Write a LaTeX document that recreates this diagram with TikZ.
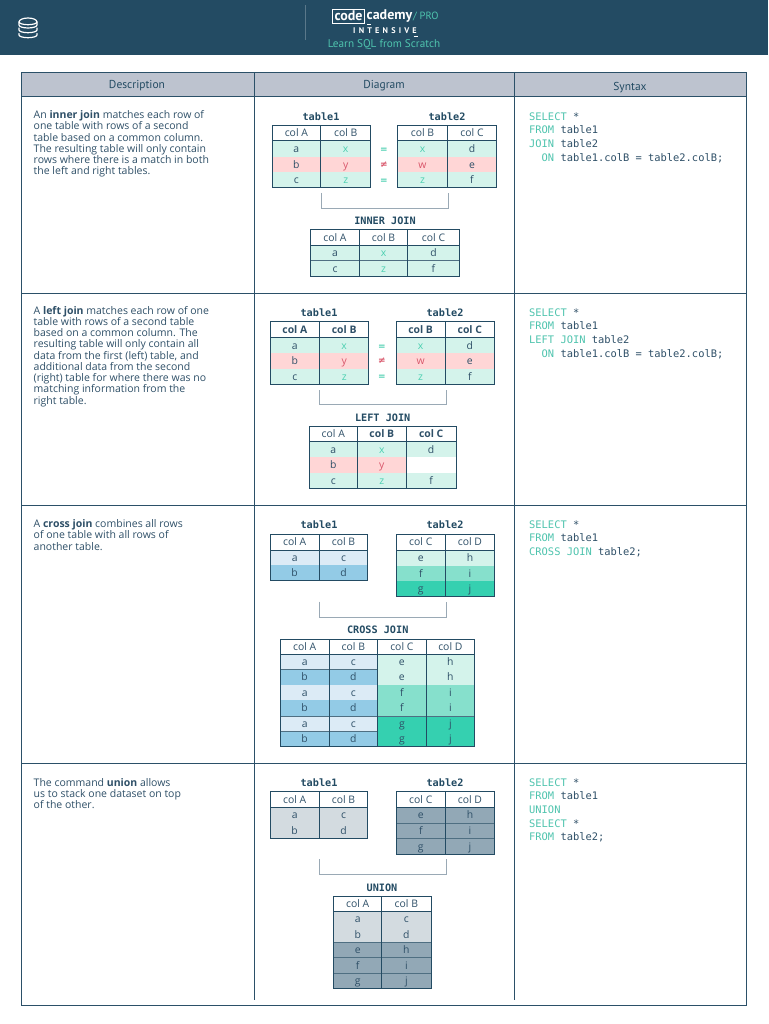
\documentclass[tikz,border=0pt]{standalone}
\usepackage{fontspec}
\setmainfont{Open Sans}
\newfontfamily\monof{DejaVu Sans Mono}
\newfontfamily\ptf{PT Sans}
\newfontfamily\symf{DejaVu Sans}
\definecolor{navy}{HTML}{234B63}
\definecolor{ink}{HTML}{2F5068}
\definecolor{rulec}{HTML}{2B5068}
\definecolor{band}{HTML}{BDC3CF}
\definecolor{teal}{HTML}{4FC4AE}
\definecolor{tL}{HTML}{D4F3EB}
\definecolor{tM}{HTML}{86E0CC}
\definecolor{tD}{HTML}{35D0B0}
\definecolor{pk}{HTML}{FFD6D6}
\definecolor{bL}{HTML}{DCEBF6}
\definecolor{bD}{HTML}{93CBE6}
\definecolor{gL}{HTML}{D3DBE0}
\definecolor{gD}{HTML}{92A8B6}
\definecolor{gn}{HTML}{4BCFB0}
\definecolor{rd}{HTML}{D9576B}
\definecolor{brk}{HTML}{9AA9B5}
\tikzset{
  x=1pt,y=-1pt,
  frame/.style={draw=rulec,line width=1pt},
  cellbox/.style={anchor=center,inner sep=0pt,font=\fontsize{10.4}{11}\selectfont,text height=8.5pt,text depth=1pt},
  tbline/.style={draw=navy,line width=1pt},
  tbsep/.style={draw=navy!80,line width=.5pt},
  bracket/.style={draw=brk,line width=.9pt},
  title/.style={font=\monof\bfseries\fontsize{10.2}{11}\selectfont,text=navy,inner sep=0pt},
  desc/.style={anchor=north west,align=left,inner sep=0pt,text=ink,font=\fontsize{10.5}{11.25}\selectfont},
  code/.style={anchor=north west,align=left,inner sep=0pt,text=ink,font=\monof\fontsize{10.4}{13.55}\selectfont},
  headtext/.style={font=\ptf\fontsize{11.5}{12}\selectfont,text=navy,inner sep=0pt},
  eqmark/.style={font=\symf\bfseries\fontsize{9}{10}\selectfont,inner sep=0pt}
}
\newcommand\kw[1]{\textcolor{teal}{#1}}
% #1 name, #2 ytop, #3 yhead, #4 row height, #5 columns x0/x1/head/cells
\newcommand\tabl[5]{%
  \foreach \xa/\xb/\hd/\cells [count=\ci] in {#5}{%
    \pgfmathsetmacro\cw{\xb-\xa}\pgfmathsetmacro\cx{(\xa+\xb)/2}%
    \pgfmathsetmacro\hh{#3-#2}\pgfmathsetmacro\cy{(#2+#3)/2}%
    \node[cellbox,text=ink,minimum width=\cw pt,minimum height=\hh pt] (#1-\ci-h) at (\cx,\cy) {\hd};%
    \foreach \fc/\tc/\ttxt [count=\ri] in \cells {%
      \pgfmathsetmacro\ry{#3+(\ri-.5)*#4}%
      \node[cellbox,fill=\fc,text=\tc,minimum width=\cw pt,minimum height=#4 pt] (#1-\ci-\ri) at (\cx,\ry) {\ttxt};%
    }%
  }%
}
\newcommand\rowsep[3]{\draw[tbsep] (#2,#1) -- (#3,#1);}
\newcommand\tgrid[6]{%
  \draw[tbline] (#1,#2) rectangle (#3,#4);
  \draw[tbline] (#1,#5) -- (#3,#5);
  \foreach \vx in {#6}{\draw[tbline] (\vx,#2) -- (\vx,#4);}%
}
\newcommand\bracketline[5]{%
  \coordinate (#1a) at (#2,#4); \coordinate (#1b) at (#2,#5);
  \coordinate (#1c) at (#3,#5); \coordinate (#1d) at (#3,#4);
  \draw[bracket] (#1a) -- (#1b) -- (#1c) -- (#1d);
}
\begin{document}
\begin{tikzpicture}
\useasboundingbox (0,0) rectangle (768,1024);
\fill[white] (0,0) rectangle (768,1024);
% top band
\fill[navy] (0,0) rectangle (768,55);
\draw[white!25!navy,line width=.7pt] (305,5) -- (305,40);
% database icon
\begin{scope}[draw=white,line width=1.2pt,line cap=round]
\draw (19,22) arc[start angle=180,end angle=360,x radius=9,y radius=4] -- (37,25) arc[start angle=0,end angle=180,x radius=9,y radius=3] -- cycle;
\draw (19,22) arc[start angle=180,end angle=0,x radius=9,y radius=2.7];
\draw (19,28) -- (19,30) arc[start angle=180,end angle=0,x radius=9,y radius=2.7] -- (37,28);
\draw (19,33.5) -- (19,35) arc[start angle=180,end angle=0,x radius=9,y radius=2.7] -- (37,33.5);
\end{scope}
\node[draw=white,line width=.9pt,minimum width=32pt,minimum height=14pt,inner sep=0pt,text=white,font=\ptf\bfseries\fontsize{14}{15}\selectfont] (logocode) at (348.5,16) {code};
\node[anchor=west,inner sep=0pt,text=white,font=\ptf\bfseries\fontsize{14}{15}\selectfont] (logocad) at (366.5,16) {cademy};
\node[anchor=west,inner sep=0pt,text=teal,font=\ptf\fontsize{10.5}{11}\selectfont] (logopro) at (413,17) {/ PRO};
\draw[white,line width=.8pt] (367,24) -- (371,24);
\node[inner sep=0pt,text=white,font=\ptf\bfseries\fontsize{8.2}{9}\selectfont] (intens) at (385,31) {I\hspace{3.2pt}N\hspace{3.2pt}T\hspace{3.2pt}E\hspace{3.2pt}N\hspace{3.2pt}S\hspace{3.2pt}I\hspace{3.2pt}V\hspace{3.2pt}E};
\draw[white,line width=.7pt] (413.5,36) -- (417.5,36);
\node[inner sep=0pt,text=teal,font=\ptf\fontsize{11.2}{12}\selectfont] (learn) at (384,45) {Learn SQL from Scratch};
% main frame
\fill[band] (21,73) rectangle (746,97);
\draw[frame] (21,73) rectangle (746,1005);
\foreach \yy in {97,293,505,763}{\draw[frame] (21,\yy) -- (746,\yy);}
\foreach \xx in {254,514}{\draw[frame] (\xx,73) -- (\xx,1000);}
\node[headtext] (hdesc) at (137,86) {Description};
\node[headtext] (hdiag) at (384,86) {Diagram};
\node[headtext] (hsyn) at (630,87.5) {Syntax};
% descriptions
\node[desc] (d1) at (33.5,110.5) {An \textbf{inner join} matches each row of\\one table with rows of a second\\table based on a common column.\\The resulting table will only contain\\rows where there is a match in both\\the left and right tables.};
\node[desc] (d2) at (33.5,306) {A \textbf{left join} matches each row of one\\table with rows of a second table\\based on a common column.  The\\resulting table will only contain all\\data from the first (left) table, and\\additional data from the second\\(right) table for where there was no\\matching information from the\\right table.};
\node[desc] (d3) at (33.5,519.5) {A \textbf{cross join} combines all rows\\of one table with all rows of\\another table.};
\node[desc] (d4) at (33.5,778) {The command \textbf{union} allows\\us to stack one dataset on top\\of the other.};
% code
\node[code] (c1) at (529,112.5) {\kw{SELECT} *\\\kw{FROM} table1\\\kw{JOIN} table2\\\kw{\ \ ON} table1.colB = table2.colB;};
\node[code] (c2) at (529,308.5) {\kw{SELECT} *\\\kw{FROM} table1\\\kw{LEFT JOIN} table2\\\kw{\ \ ON} table1.colB = table2.colB;};
\node[code] (c3) at (529,520.5) {\kw{SELECT} *\\\kw{FROM} table1\\\kw{CROSS JOIN} table2;};
\node[code] (c4) at (529,778.5) {\kw{SELECT} *\\\kw{FROM} table1\\\kw{UNION}\\\kw{SELECT} *\\\kw{FROM} table2;};
% ---------- inner join
\node[title] (t11) at (321,116.5) {table1};
\node[title] (t12) at (447,116.5) {table2};
\tabl{ia}{125.3}{141}{15.67}{272/320.7/col A/{tL/ink/a,pk/ink/b,tL/ink/c},320.7/370.7/col B/{tL/gn/x,pk/rd/y,tL/gn/z}}
\tgrid{272}{125.3}{370.7}{188}{141}{320.7}
\tabl{ib}{125.3}{141}{15.67}{397.7/447.3/col B/{tL/gn/x,pk/rd/w,tL/gn/z},447.3/496.7/col C/{tL/ink/d,pk/ink/e,tL/ink/f}}
\tgrid{397.7}{125.3}{496.7}{188}{141}{447.3}
\node[eqmark,text=gn] (e11) at (384,150) {=};
\node[eqmark,text=rd] (e12) at (384,165) {≠};
\node[eqmark,text=gn] (e13) at (384,181) {=};
\bracketline{bi}{321.7}{448.3}{193}{208}
\node[title] (t13) at (385,221) {INNER JOIN};
\tabl{ic}{230}{245}{15.5}{310.7/359.3/col A/{tL/ink/a,tL/ink/c},359.3/407.7/col B/{tL/gn/x,tL/gn/z},407.7/459.3/col C/{tL/ink/d,tL/ink/f}}
\rowsep{260.5}{310.7}{459.3}
\tgrid{310.7}{230}{459.3}{276}{245}{359.3,407.7}
% ---------- left join
\node[title] (t21) at (319,313) {table1};
\node[title] (t22) at (445,313) {table2};
\tabl{la}{321.7}{337.7}{15.53}{270/319.7/\textbf{col A}/{tL/ink/a,pk/ink/b,tL/ink/c},319.7/368.7/\textbf{col B}/{tL/gn/x,pk/rd/y,tL/gn/z}}
\tgrid{270}{321.7}{368.7}{384.3}{337.7}{319.7}
\tabl{lb}{321.7}{337.7}{15.53}{396/445.3/\textbf{col B}/{tL/gn/x,pk/rd/w,tL/gn/z},445.3/494.3/\textbf{col C}/{tL/ink/d,pk/ink/e,tL/ink/f}}
\tgrid{396}{321.7}{494.3}{384.3}{337.7}{445.3}
\node[eqmark,text=gn] (e21) at (382,347) {=};
\node[eqmark,text=rd] (e22) at (382,361) {≠};
\node[eqmark,text=gn] (e23) at (382,377) {=};
\bracketline{bl}{319.7}{446.3}{390}{404.3}
\node[title] (t23) at (382.7,417.3) {LEFT JOIN};
\tabl{lc}{426.7}{441.7}{15.67}{309.3/357.3/col A/{tL/ink/a,pk/ink/b,tL/ink/c},357.3/406.3/\textbf{col B}/{tL/gn/x,pk/rd/y,tL/gn/z},406.3/456/\textbf{col C}/{tL/ink/d,white/ink/{},tL/ink/f}}
\tgrid{309.3}{426.7}{456}{488.7}{441.7}{357.3,406.3}
% ---------- cross join
\node[title] (t31) at (319,525) {table1};
\node[title] (t32) at (445,525) {table2};
\tabl{xa}{534}{550}{15.35}{270/319.3/col A/{bL/ink/a,bD/ink/b},319.3/367.7/col B/{bL/ink/c,bD/ink/d}}
\tgrid{270}{534}{367.7}{580.7}{550}{319.3}
\tabl{xb}{534}{550}{15.57}{396.3/445.3/col C/{tL/ink/e,tM/ink/f,tD/ink/g},445.3/494.7/col D/{tL/ink/h,tM/ink/i,tD/ink/j}}
\tgrid{396.3}{534}{494.7}{596.7}{550}{445.3}
\bracketline{bx}{319.3}{446}{601.7}{617.3}
\node[title] (t33) at (377.7,630) {CROSS JOIN};
\tabl{xc}{639}{654}{15.44}{280.3/329/col A/{bL/ink/a,bD/ink/b,bL/ink/a,bD/ink/b,bL/ink/a,bD/ink/b},329/377.7/col B/{bL/ink/c,bD/ink/d,bL/ink/c,bD/ink/d,bL/ink/c,bD/ink/d},377.7/426/col C/{tL/ink/e,tL/ink/e,tM/ink/f,tM/ink/f,tD/ink/g,tD/ink/g},426/474.7/col D/{tL/ink/h,tL/ink/h,tM/ink/i,tM/ink/i,tD/ink/j,tD/ink/j}}
\rowsep{669.5}{280.3}{377.7}
\rowsep{716.5}{280.3}{474.7}
\rowsep{731.7}{280.3}{377.7}
\tgrid{280.3}{639}{474.7}{746.7}{654}{329,377.7,426}
% ---------- union
\node[title] (t41) at (319,782.5) {table1};
\node[title] (t42) at (445,782.5) {table2};
\tabl{ua}{791.7}{807.3}{15.35}{270/319.3/col A/{gL/ink/a,gL/ink/b},319.3/367.7/col B/{gL/ink/c,gL/ink/d}}
\tgrid{270}{791.7}{367.7}{838}{807.3}{319.3}
\tabl{ub}{791.7}{807.3}{15.67}{396.3/445.3/col C/{gD/ink/e,gD/ink/f,gD/ink/g},445.3/494.7/col D/{gD/ink/h,gD/ink/i,gD/ink/j}}
\rowsep{823}{396.3}{494.7}
\rowsep{838.7}{396.3}{494.7}
\tgrid{396.3}{791.7}{494.7}{854.3}{807.3}{445.3}
\bracketline{bu}{319.3}{446}{859.3}{874.3}
\node[title] (t43) at (382,887.7) {UNION};
\tabl{uc}{896.3}{911.3}{15.48}{333.7/381.7/col A/{gL/ink/a,gL/ink/b,gD/ink/e,gD/ink/f,gD/ink/g},381.7/431/col B/{gL/ink/c,gL/ink/d,gD/ink/h,gD/ink/i,gD/ink/j}}
\rowsep{942.3}{333.7}{431}
\rowsep{957.7}{333.7}{431}
\rowsep{973.2}{333.7}{431}
\tgrid{333.7}{896.3}{431}{988.7}{911.3}{381.7}
\end{tikzpicture}
\end{document}
